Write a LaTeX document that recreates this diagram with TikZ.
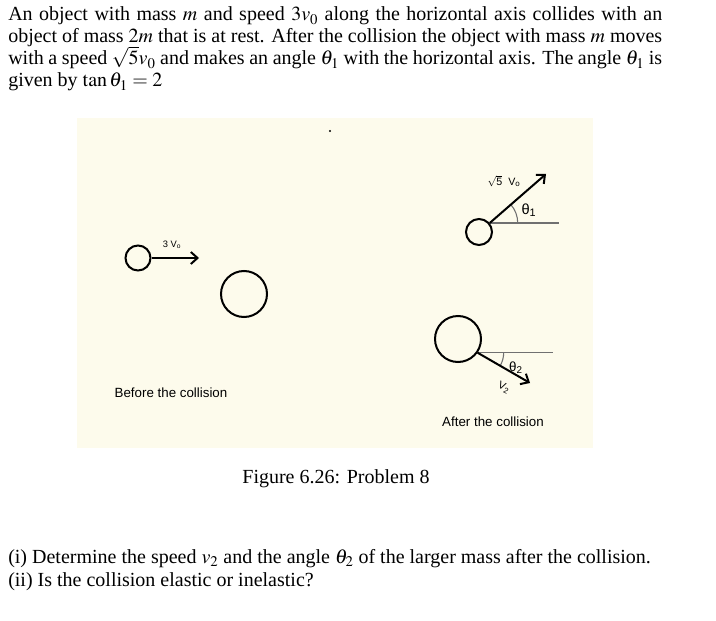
\documentclass[tikz,border=0pt]{standalone}
\usepackage{mathptmx}
\usepackage{fontspec}
\setmainfont{Liberation Serif}
\setsansfont{Liberation Sans}
\usetikzlibrary{arrows.meta}
\definecolor{bgcream}{HTML}{FDFBEC}
\definecolor{refgray}{HTML}{707070}
\tikzset{
  txt/.style={inner sep=0pt, font=\fontsize{15}{16.5}\selectfont},
  lab/.style={inner sep=0pt, font=\sffamily\fontsize{10}{12}\selectfont},
  ball/.style={circle, draw=black, line width=1.5pt, inner sep=0pt},
  vel/.style={line width=1.5pt, -{Straight Barb[length=5pt,width=9pt,line width=1.5pt]}},
  refline/.style={draw=refgray, line width=0.8pt},
}
\begin{document}
\begin{tikzpicture}[x=0.75pt,y=-0.75pt]
\useasboundingbox (0,0) rectangle (716,620);
\fill[white] (0,0) rectangle (716,620);
\fill[bgcream] (77,118) rectangle (593,448);

% top paragraph
\node[txt, anchor=base west] (l1) at (8,21) {\hbox to 490.5pt{An object with mass $m$ and speed $3v_0$ along the horizontal axis collides with an}};
\node[txt, anchor=base west] (l2) at (8,43) {\hbox to 490.5pt{object of mass $2m$ that is at rest. After the collision the object with mass $m$ moves}};
\node[txt, anchor=base west] (l3) at (8,65) {\hbox to 490.5pt{with a speed $\sqrt{5}v_0$ and makes an angle $\theta_1$ with the horizontal axis. The angle $\theta_1$ is}};
\node[txt, anchor=base west] (l4) at (8,87) {given by $\tan\theta_1=2$};

% tiny mark
\fill (330,131) circle (1.2);

% before the collision
\node[ball, minimum size=25*0.75pt] (m1) at (138,258) {};
\coordinate (t0) at (199,258);
\draw[vel] (m1.east) -- (t0);
\node[lab, font=\sffamily\fontsize{7}{8}\selectfont] (v0lab) at (172,245) {3 V\textsubscript{o}};
\node[ball, minimum size=46*0.75pt] (m2) at (244,294) {};
\node[lab] (before) at (171,393) {Before the collision};

% after the collision: mass m
\node[ball, minimum size=26*0.75pt] (a1) at (479,232) {};
\coordinate (p1) at (a1.40);
\coordinate (t1) at (546,174);
\coordinate (h1) at (p1 -| 559,0);
\draw[refline] (p1) -- (h1);
\draw[refline] ([xshift=28*0.75pt]p1) arc[start angle=0, end angle=41, radius=28*0.75pt];
\draw[vel] (p1) -- (t1);
\node[lab, font=\sffamily\fontsize{11}{12}\selectfont] (th1) at (529,210) {θ\textsubscript{1}};
\node[lab, font=\sffamily\fontsize{8}{9}\selectfont] (v1lab) at (504,181) {$\sqrt{\mbox{5}}$\ \ V\textsubscript{o}};

% after the collision: mass 2m
\node[ball, minimum size=46*0.75pt] (a2) at (458,339) {};
\coordinate (p2) at (a2.-35);
\coordinate (t2) at (530,383);
\coordinate (h2) at (p2 -| 553,0);
\draw[refline] (p2) -- (h2);
\draw[refline] ([xshift=26*0.75pt]p2) arc[start angle=0, end angle=-30, radius=26*0.75pt];
\draw[vel] (p2) -- (t2);
\node[lab, font=\sffamily\fontsize{10}{12}\selectfont] (th2) at (516,368) {θ\textsubscript{2}};
\node[lab, font=\sffamily\fontsize{8}{9}\selectfont, rotate=-25] (v2lab) at (504,388) {V\textsubscript{2}};
\node[lab] (after) at (493,422) {After the collision};

% caption and questions
\node[txt, anchor=base] (cap) at (336,483) {Figure 6.26: Problem 8};
\node[txt, anchor=base west] (q1) at (8,563) {(i) Determine the speed $v_2$ and the angle $\theta_2$ of the larger mass after the collision.};
\node[txt, anchor=base west] (q2) at (8,586) {(ii) Is the collision elastic or inelastic?};
\end{tikzpicture}
\end{document}
